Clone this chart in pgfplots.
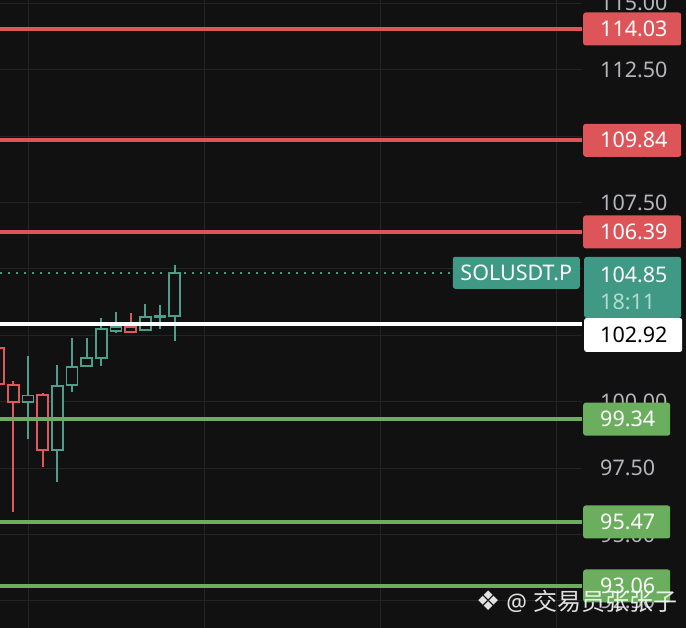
\documentclass[border=0pt]{standalone}
\usepackage{pgfplots}
\pgfplotsset{compat=1.18}
\usepackage{fontspec}
\setmainfont{Noto Sans}
\newfontfamily\cjk{Noto Sans CJK SC}
\newfontfamily\dejavu{DejaVu Sans}
\definecolor{bg}{HTML}{111111}
\definecolor{gridc}{HTML}{242424}
\definecolor{lred}{HTML}{DD5459}
\definecolor{lgreen}{HTML}{6BAE5E}
\definecolor{cgreen}{HTML}{4E9E8B}
\definecolor{cred}{HTML}{E0585D}
\definecolor{tealbox}{HTML}{3F9985}
\definecolor{ticktext}{HTML}{B4B6BC}
\definecolor{timetext}{HTML}{B2DCCE}

% candle: position, low, body low, body high, high, colour
\newcommand{\candle}[6]{%
  \pgfmathsetmacro\xl{#1-0.375}\pgfmathsetmacro\xr{#1+0.375}%
  \edef\tmp{%
    \noexpand\addplot[draw=#6, line width=1.9pt] coordinates {(#1,#2) (#1,#3)};
    \noexpand\addplot[draw=#6, line width=1.9pt] coordinates {(#1,#4) (#1,#5)};
    \noexpand\addplot[draw=#6, fill=bg, line width=1.9pt] coordinates {(\xl,#3) (\xr,#3) (\xr,#4) (\xl,#4)} -- cycle;
  }\tmp}
% horizontal level
\newcommand{\level}[3]{%
  \addplot[#2, line width=#3] coordinates {(0.0909,#1) (39.77,#1)};}
% right-hand price box: price, colour, width, text
\newcommand{\pbox}[4]{%
  \node[fill=#2, anchor=west, minimum height=33pt, minimum width=#3,
    inner sep=0pt, rounded corners=2.5pt, xshift=1pt] at (axis cs:39.77,#1) {};
  \node[anchor=west, inner sep=0pt, text=white, xshift=18pt,
    font=\fontsize{21.5}{22}\selectfont] at (axis cs:39.77,#1) {#4};}
\newcommand{\ptick}[1]{%
  \node[anchor=west, inner sep=0pt, text=ticktext, xshift=18pt,
    font=\fontsize{21.5}{22}\selectfont] at (axis cs:39.77,#1) {#1};}

\begin{document}
\begin{tikzpicture}
\useasboundingbox (0,0) rectangle (686pt,628pt);
\clip (0,0) rectangle (686pt,628pt);
\fill[bg] (0,0) rectangle (686pt,628pt);
\begin{axis}[
  at={(0,0)}, anchor=south west,
  width=582pt, height=628pt, scale only axis,
  xmin=0.0909, xmax=39.77, ymin=91.477, ymax=115.122,
  clip=false,
  axis line style={draw=none},
  tick style={draw=none},
  xtick={2,14,26,38}, ytick={92.5,95,97.5,100,102.5,105,107.5,110,112.5,115},
  xticklabels={}, yticklabels={},
  grid=major, major grid style={draw=gridc, line width=1pt},
]
% candles
\candle{0}{100.40}{100.66}{102.02}{102.30}{cred}
\candle{1}{95.84}{100.00}{100.63}{100.79}{cred}
\candle{2}{98.59}{100.00}{100.23}{101.72}{cgreen}
\candle{3}{97.55}{98.18}{100.25}{100.34}{cred}
\candle{4}{96.99}{98.18}{100.60}{101.38}{cgreen}
\candle{5}{100.37}{100.63}{101.32}{102.38}{cgreen}
\candle{6}{101.32}{101.35}{101.63}{102.41}{cgreen}
\candle{7}{101.34}{101.63}{102.72}{103.14}{cgreen}
\candle{8}{102.57}{102.67}{102.82}{103.39}{cgreen}
\candle{9}{102.57}{102.63}{102.82}{103.35}{cred}
\candle{10}{102.70}{102.70}{103.20}{103.68}{cgreen}
\candle{11}{102.74}{103.20}{103.24}{103.64}{cgreen}
\candle{12}{102.30}{103.22}{104.85}{105.15}{cgreen}
% current price dotted line
\addplot[tealbox, line width=2pt, dash pattern=on 2pt off 6pt]
  coordinates {(0.0909,104.85) (30.77,104.85)};
% levels
\level{114.03}{lred}{3.8pt}
\level{109.84}{lred}{3.8pt}
\level{106.39}{lred}{3.8pt}
\level{102.92}{white}{3.8pt}
\level{99.34}{lgreen}{3.8pt}
\level{95.47}{lgreen}{3.8pt}
\level{93.06}{lgreen}{3.8pt}
% price scale
\ptick{115.00}\ptick{112.50}\ptick{110.00}\ptick{107.50}\ptick{105.00}
\ptick{102.50}\ptick{100.00}\ptick{97.50}\ptick{95.00}\ptick{92.50}
% level boxes
\pbox{114.03}{lred}{98pt}{114.03}
\pbox{109.84}{lred}{98pt}{109.84}
\pbox{106.39}{lred}{98pt}{106.39}
\pbox{99.34}{lgreen}{87pt}{99.34}
\pbox{95.47}{lgreen}{87pt}{95.47}
\pbox{93.06}{lgreen}{87pt}{93.06}
% white box 102.92
\node[fill=white, anchor=west, minimum height=34pt, minimum width=98pt,
  inner sep=0pt, rounded corners=2.5pt, xshift=2pt] at (axis cs:39.77,102.51) {};
\node[anchor=west, inner sep=0pt, text=black, xshift=18pt,
  font=\fontsize{21.5}{22}\selectfont] at (axis cs:39.77,102.51) {102.92};
% teal current price box
\node[fill=tealbox, anchor=west, minimum height=61pt, minimum width=97pt,
  inner sep=0pt, rounded corners=2.5pt, xshift=2pt] at (axis cs:39.77,104.30) {};
\node[anchor=west, inner sep=0pt, text=white, xshift=18pt,
  font=\fontsize{21.5}{22}\selectfont] at (axis cs:39.77,104.77) {104.85};
\node[anchor=west, inner sep=0pt, text=timetext, xshift=18pt,
  font=\fontsize{21.5}{22}\selectfont] at (axis cs:39.77,103.75) {18:11};
% symbol box
\node[fill=tealbox, anchor=east, minimum height=32pt, minimum width=127pt,
  inner sep=0pt, rounded corners=2.5pt, text=white, xshift=-2pt,
  font=\fontsize{21.5}{22}\selectfont] at (axis cs:39.77,104.85) {SOLUSDT.P};
% watermark
\node[anchor=west, inner sep=0pt, text=white, text opacity=0.88, xshift=-106pt]
  at (axis cs:39.77,92.49)
  {{\dejavu\fontsize{27}{27}\selectfont ❖}\hspace{6pt}{\fontsize{23}{23}\selectfont @}\hspace{6pt}{\cjk\fontsize{24}{24}\selectfont 交易员张张子}};
\end{axis}
\end{tikzpicture}
\end{document}
